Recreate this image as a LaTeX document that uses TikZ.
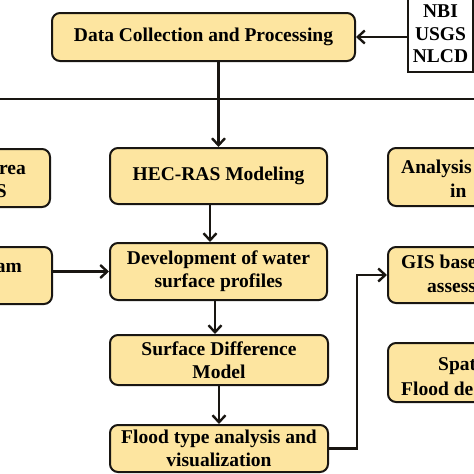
\documentclass[tikz,border=0pt]{standalone}
\usepackage{fontspec}
\setmainfont{Liberation Serif}
\usetikzlibrary{arrows.meta}
\definecolor{boxfill}{RGB}{253,229,160}
\definecolor{edge}{RGB}{25,22,18}
\begin{document}
\begin{tikzpicture}[x=1pt,y=-1pt,
  txt/.style={font=\fontsize{19.5}{23}\selectfont\bfseries},
  box/.style={draw=edge, line width=2pt, rounded corners=8pt, fill=boxfill, txt, align=center, inner sep=0pt},
  lbl/.style={txt, inner sep=0pt},
  srcbox/.style={draw=edge, line width=1.8pt, fill=white, txt, align=center, inner sep=0pt},
  arr/.style={draw=edge, line width=2.4pt, -{Straight Barb[length=7pt,width=13pt]}},
  rule/.style={draw=edge, line width=2.4pt}]
\useasboundingbox (0,0) rectangle (474,474);
\clip (0,0) rectangle (474,474);
% main column
\node[box, minimum width=303pt, minimum height=48pt] (data) at (203.5,37) {Data Collection and Processing};
\node[srcbox, minimum width=65pt, minimum height=76pt, font=\fontsize{19.5}{22.5}\selectfont\bfseries] (nbi) at (440.5,34) {NBI\\USGS\\NLCD};
\node[box, minimum width=217pt, minimum height=56pt] (hec) at (218.5,176) {HEC-RAS Modeling};
\node[box, minimum width=217pt, minimum height=57pt] (dev) at (218.5,271.5) {Development of water\\surface profiles};
\node[box, minimum width=218pt, minimum height=50pt] (surf) at (219,360) {Surface Difference\\Model};
\node[box, minimum width=218pt, minimum height=47pt] (flood) at (219,448.5) {Flood type analysis and\\visualization};
% partial left boxes
\node[box, minimum width=200pt, minimum height=58pt] (left1) at (-50,178) {};
\node[box, minimum width=202pt, minimum height=57pt] (left2) at (-49,275.5) {};
\node[lbl, anchor=base east] (l1a) at (26,174) {rea};
\node[lbl, anchor=base east] (l1b) at (7,197) {S};
\node[lbl, anchor=base east] (l2a) at (22,272) {am};
% partial right boxes
\node[box, minimum width=200pt, minimum height=58pt] (anal) at (488,177) {};
\node[box, minimum width=200pt, minimum height=56pt] (gis) at (488,275) {};
\node[box, minimum width=200pt, minimum height=59pt] (spat) at (488,372.5) {};
\node[lbl, anchor=base west] (r1a) at (401,173) {Analysis};
\node[lbl, anchor=base west] (r1b) at (450,197) {in};
\node[lbl, anchor=base west] (r2a) at (401,268) {GIS base};
\node[lbl, anchor=base west] (r2b) at (427,292) {assess};
\node[lbl, anchor=base west] (r3a) at (438,370) {Spat};
\node[lbl, anchor=base west] (r3b) at (401,395) {Flood de};
% rule
\coordinate (hl) at (0,99);
\coordinate (hr) at (474,99);
\draw[rule] (hl) -- (hr);
% connectors
\draw[arr] (nbi.west |- data.east) -- (data.east);
\draw[arr] (hec.north |- data.south) -- (hec.north);
\draw[arr] ([xshift=-8.5pt]hec.south) -- ([xshift=-8.5pt]dev.north);
\draw[arr] ([xshift=-3.5pt]dev.south) -- ([xshift=-4pt]surf.north);
\draw[arr] (surf.south) -- (flood.north);
\draw[arr] (left2.east |- dev.west) -- (dev.west);
\draw[arr] (flood.east) -- ++(28,0) |- (gis.west);
\end{tikzpicture}
\end{document}
